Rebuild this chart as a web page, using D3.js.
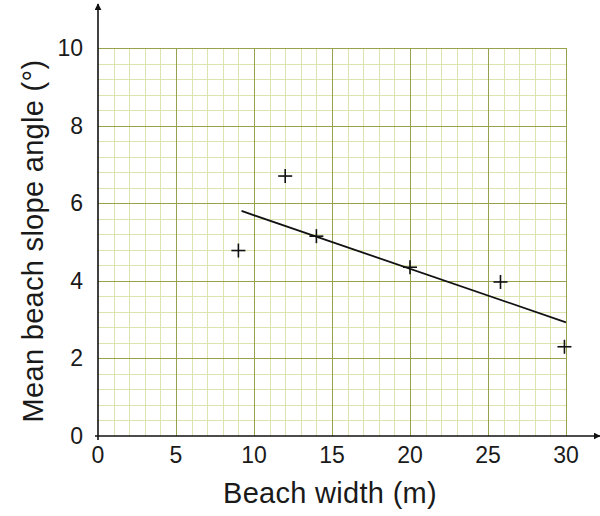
<!DOCTYPE html>
<html>
<head>
<meta charset="utf-8">
<script src="https://cdn.jsdelivr.net/npm/d3@7"></script>
<style>
  body { margin: 0; background: #fff; }
  text { font-family: "Liberation Sans", Arial, sans-serif; fill: #1a1a1a; }
</style>
</head>
<body>
<div id="chart"></div>
<script>
// beach data
var beachWidth = [9, 12, 14, 20, 25.8, 29.9];
var slopeAngle = [4.78, 6.7, 5.15, 4.35, 3.97, 2.3];
// line of best fit (drawn by hand on the original)
var fitX = [9.2, 30];
var fitY = [5.8, 2.93];
var xTicks = [0, 5, 10, 15, 20, 25, 30];
var yTicks = [0, 2, 4, 6, 8, 10];

var margin = {top: 48, right: 34, bottom: 80, left: 98},
    width = 600 - margin.left - margin.right,
    height = 516 - margin.top - margin.bottom;

const svg = d3.select("#chart")
  .append("svg")
    .attr("width", 600)
    .attr("height", 516)
  .append("g")
    .attr("transform", `translate(${margin.left},${margin.top})`);

const x = d3.scaleLinear().domain([0, 30]).range([0, 468]);
const y = d3.scaleLinear().domain([0, 10]).range([388, 0]);

// snap grid lines to whole pixels so they stay thin
const px = v => Math.round(v) + 0.5;

// graph paper: minor lines first, then the darker major lines
const grid = svg.append("g").attr("shape-rendering", "crispEdges");

grid.append("g")
  .selectAll("line")
  .data(d3.range(1, 30))
  .join("line")
    .attr("x1", d => px(x(d))).attr("x2", d => px(x(d)))
    .attr("y1", y(0)).attr("y2", y(10))
    .attr("stroke", "#dde3ae").attr("stroke-width", 1);

grid.append("g")
  .selectAll("line")
  .data(d3.range(1, 25).map(i => i * 0.4))
  .join("line")
    .attr("x1", x(0)).attr("x2", x(30))
    .attr("y1", d => px(y(d))).attr("y2", d => px(y(d)))
    .attr("stroke", "#dde3ae").attr("stroke-width", 1);

grid.append("g")
  .selectAll("line")
  .data(xTicks.slice(1))
  .join("line")
    .attr("x1", d => px(x(d))).attr("x2", d => px(x(d)))
    .attr("y1", y(0)).attr("y2", y(10))
    .attr("stroke", "#98a24c").attr("stroke-width", 1.5);

grid.append("g")
  .selectAll("line")
  .data(yTicks.slice(1))
  .join("line")
    .attr("x1", x(0)).attr("x2", x(30))
    .attr("y1", d => px(y(d))).attr("y2", d => px(y(d)))
    .attr("stroke", "#98a24c").attr("stroke-width", 1.5);

// arrow heads
const defs = svg.append("defs");
defs.append("marker")
    .attr("id", "arrow")
    .attr("viewBox", "0 0 10 10")
    .attr("refX", 9).attr("refY", 5)
    .attr("markerWidth", 7).attr("markerHeight", 7)
    .attr("markerUnits", "userSpaceOnUse")
    .attr("orient", "auto")
  .append("path")
    .attr("d", "M0,0 L10,5 L0,10 Z")
    .attr("fill", "#111");

// axes
svg.append("line")
  .attr("x1", x(0) - 3).attr("x2", x(30) + 34)
  .attr("y1", y(0)).attr("y2", y(0))
  .attr("stroke", "#111").attr("stroke-width", 1.6)
  .attr("marker-end", "url(#arrow)");

svg.append("line")
  .attr("x1", x(0)).attr("x2", x(0))
  .attr("y1", y(0) + 4).attr("y2", y(10) - 44)
  .attr("stroke", "#111").attr("stroke-width", 1.6)
  .attr("marker-end", "url(#arrow)");

// tick labels
svg.append("g")
  .selectAll("text")
  .data(xTicks)
  .join("text")
    .attr("x", d => x(d))
    .attr("y", y(0) + 27)
    .attr("text-anchor", "middle")
    .style("font-size", "23px")
    .text(d => d);

svg.append("g")
  .selectAll("text")
  .data(yTicks)
  .join("text")
    .attr("x", x(0) - 15)
    .attr("y", d => y(d) + 8)
    .attr("text-anchor", "end")
    .style("font-size", "23px")
    .text(d => d);

// axis titles
svg.append("text")
  .attr("x", x(15) - 2)
  .attr("y", y(0) + 67)
  .attr("text-anchor", "middle")
  .style("font-size", "29px")
  .style("letter-spacing", "0.3px")
  .text("Beach width (m)");

svg.append("text")
  .attr("transform", `translate(${-55},${y(5) - 1}) rotate(-90)`)
  .attr("text-anchor", "middle")
  .style("font-size", "29px")
  .style("letter-spacing", "0.3px")
  .text("Mean beach slope angle (°)");

// best fit line
svg.append("line")
  .attr("x1", x(fitX[0])).attr("y1", y(fitY[0]))
  .attr("x2", x(fitX[1])).attr("y2", y(fitY[1]))
  .attr("stroke", "#111").attr("stroke-width", 1.8);

// plotted points as crosses
const pts = svg.append("g")
  .selectAll("g")
  .data(beachWidth.map((d, i) => [d, slopeAngle[i]]))
  .join("g")
    .attr("transform", d => `translate(${x(d[0])},${y(d[1])})`);

pts.append("line")
  .attr("x1", -7).attr("x2", 7)
  .attr("stroke", "#111").attr("stroke-width", 1.6);
pts.append("line")
  .attr("y1", -7).attr("y2", 7)
  .attr("stroke", "#111").attr("stroke-width", 1.6);
</script>
</body>
</html>
